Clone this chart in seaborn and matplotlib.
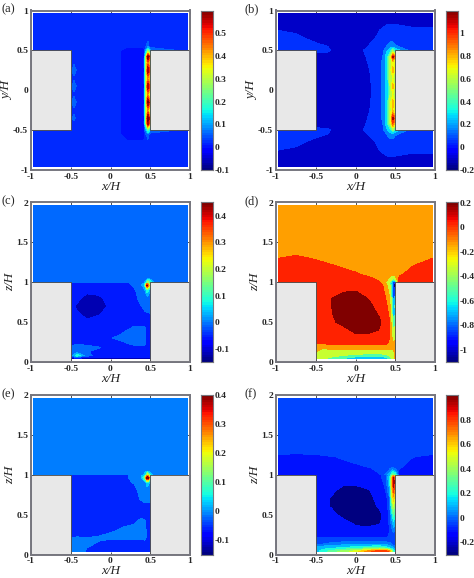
import numpy as np
import matplotlib
matplotlib.use('Agg')
import matplotlib.pyplot as plt
import seaborn as sns

# grids the contour values below were read on
plan_y = [-.96, -.75, -.65, -.55, -.5, -.42, -.35, -.25, -.15, -.05, .05, .15, .25, .35, .42, .5, .55, .65, .75, .96]
a_x = [-.97, -.5, -.46, -.42, .1, .2, .42, .44, .47, .49, .5, .97]
b_x = [-.97, -.75, -.5, -.35, -.25, .1, .2, .3, .35, .4, .44, .47, .5, .7, .97]
cav_x = [-.5, -.42, -.3, -.15, 0, .15, .3, .38, .43, .46, .48, .5]
cav_z = [.04, .08, .13, .18, .23, .3, .4, .5, .6, .7, .8, .9, .96, 1.0]
top_x = [-.97, -.75, -.5, -.25, 0, .2, .3, .4, .44, .47, .5, .55, .75, .97]
top_z = [1.0, 1.05, 1.1, 1.2, 1.3, 1.4, 1.96]

# (a) rows go bottom to top
a_vals = [
    [.01, .01, .01, .01, .01, .01, .01, .01, .01, .01, .01, .01],
    [.01, .01, .01, .01, .01, .01, .01, .01, .01, .01, .01, .01],
    [.01, .01, .01, .01, .01, .01, .01, .01, .01, .01, .01, .01],
    [.01, .01, .01, .01, .01, -.01, -.01, .02, .07, .02, .01, .01],
    [.01, .01, .01, .01, .01, -.01, -.01, .08, .2, .15, .08, .01],
    [.01, .01, .01, .01, .01, -.01, -.01, .22, .58, .45, .3, .01],
    [.01, .01, .05, .01, .01, -.01, -.01, .2, .65, .5, .3, .01],
    [.01, .01, .01, .01, .01, -.01, -.01, .25, .42, .3, .2, .01],
    [.01, .01, .08, .01, .01, -.01, -.01, .2, .62, .5, .3, .01],
    [.01, .01, .01, .01, .01, -.01, -.01, .25, .42, .3, .2, .01],
    [.01, .01, .08, .01, .01, -.01, -.01, .2, .6, .5, .3, .01],
    [.01, .01, .01, .01, .01, -.01, -.01, .25, .42, .35, .2, .01],
    [.01, .01, .08, .01, .01, -.01, -.01, .2, .6, .5, .3, .01],
    [.01, .01, .01, .01, .01, -.01, -.01, .25, .45, .35, .2, .01],
    [.01, .01, .01, .01, .01, -.01, -.01, .2, .65, .5, .3, .01],
    [.01, .01, .01, .01, .01, -.01, -.01, .08, .2, .15, .08, .01],
    [.01, .01, .01, .01, .01, .01, .01, .02, .07, .02, .01, .01],
    [.01, .01, .01, .01, .01, .01, .01, .01, .01, .01, .01, .01],
    [.01, .01, .01, .01, .01, .01, .01, .01, .01, .01, .01, .01],
    [.01, .01, .01, .01, .01, .01, .01, .01, .01, .01, .01, .01],
]

# (b)
b_vals = [
    [-.08, -.08, -.08, -.08, -.08, -.08, -.08, -.08, -.08, -.08, -.08, -.08, -.08, -.08, -.08],
    [.0, -.03, -.08, -.08, -.08, -.08, -.08, -.0, .02, .045, .045, .045, .045, .02, .02],
    [.045, .045, -.05, -.08, -.08, -.08, -.04, .045, .045, .045, .045, .045, .045, .045, .045],
    [.045, .045, .045, .0, -.04, -.06, .045, .045, .045, .1, .15, .15, .1, .045, .045],
    [.045, .045, .045, .03, -.06, .0, .045, .045, .07, .2, .3, .5, .3, .045, .045],
    [.045, .045, -.08, -.08, -.08, -.02, .045, .045, .1, .33, .6, .95, .7, .045, .045],
    [.045, .045, -.08, -.08, -.08, -.05, .045, .045, .12, .33, .6, 1.1, .8, .045, .045],
    [.045, .045, -.08, -.08, -.08, -.08, .02, .045, .12, .3, .62, .75, .6, .045, .045],
    [.045, .045, -.08, -.08, -.08, -.08, .01, .045, .12, .28, .62, .8, .6, .045, .045],
    [.045, .045, -.08, -.08, -.08, -.08, .0, .045, .12, .26, .6, .65, .55, .045, .045],
    [.045, .045, -.08, -.08, -.08, -.08, .0, .045, .12, .26, .6, .8, .6, .045, .045],
    [.045, .045, -.08, -.08, -.08, -.08, .01, .045, .12, .28, .62, .65, .55, .045, .045],
    [.045, .045, -.08, -.08, -.08, -.08, .02, .045, .12, .3, .62, .8, .6, .045, .045],
    [.045, .045, -.08, -.08, -.08, -.05, .045, .045, .12, .33, .6, .7, .6, .045, .045],
    [.045, .045, -.08, -.08, -.08, -.02, .045, .045, .1, .33, .6, 1.1, .8, .045, .045],
    [.045, .045, .045, .03, -.06, .0, .045, .045, .07, .2, .3, .5, .3, .045, .045],
    [.045, .045, .045, .0, -.04, -.06, .045, .045, .045, .1, .15, .15, .1, .045, .045],
    [.045, .045, -.05, -.08, -.08, -.08, -.04, .045, .045, .045, .045, .045, .045, .045, .045],
    [.0, -.03, -.08, -.08, -.08, -.08, -.08, -.0, .02, .045, .045, .045, .045, .02, .02],
    [-.08, -.08, -.08, -.08, -.08, -.08, -.08, -.08, -.08, -.08, -.08, -.08, -.08, -.08, -.08],
]

# (c) cavity then the flow above it
c_cav = [
    [-.12, -.12, -.12, -.12, -.12, -.12, -.12, -.12, -.12, -.12, -.12, -.12],
    [-.0125, .08, -.0125, -.0575, -.0575, -.0575, -.0575, -.0575, -.0575, -.0575, -.0575, -.0575],
    [-.0125, -.0125, -.03, -.0575, -.0575, -.0575, -.0575, -.0575, -.0575, -.0575, -.0575, -.0575],
    [-.0125, -.0125, -.0125, -.03, -.0575, -.0575, -.0575, -.0575, -.0575, -.0575, -.0575, -.0575],
    [-.0575, -.04, -.05, -.0575, -.05, -.05, -.02, -.0125, -.02, -.0575, -.0575, -.0575],
    [-.0575, -.0575, -.0575, -.0575, -.04, -.0125, -.0125, -.0125, -.0125, -.0575, -.0575, -.0575],
    [-.0575, -.0575, -.0575, -.0575, -.0575, -.05, -.0125, -.0125, -.0125, -.0575, -.0575, -.0575],
    [-.0575, -.0575, -.07, -.0575, -.0575, -.0575, -.0575, -.0575, -.0575, -.0575, -.0575, -.0575],
    [-.0575, -.07, -.11, -.09, -.0575, -.0575, -.0575, -.0575, -.05, -.04, -.04, -.035],
    [-.0575, -.1, -.12, -.12, -.07, -.0575, -.0575, -.04, -.0125, -.0125, -.0125, -.0125],
    [-.0575, -.0575, -.12, -.1, -.0575, -.0575, -.0575, -.0125, -.0125, -.0125, -.0125, -.0125],
    [-.0575, -.0575, -.0575, -.0575, -.0575, -.0575, -.04, -.0125, .0, .08, .06, -.0125],
    [-.0575, -.0575, -.0575, -.0575, -.0575, -.0575, -.03, -.0125, .06, .42, .3, .1],
    [-.0575, -.0575, -.0575, -.0575, -.0575, -.0575, -.0125, -.0125, .05, .2, .18, .1],
]
c_top = [
    [-.0125, -.0125, -.0125, -.0125, -.0125, -.0125, -.0125, -.0125, .03, .2, .1, -.0125, -.0125, -.0125],
    [-.0125, -.0125, -.0125, -.0125, -.0125, -.0125, -.0125, -.0125, -.0125, .0, -.0125, -.0125, -.0125, -.0125],
    [-.0125, -.0125, -.0125, -.0125, -.0125, -.0125, -.0125, -.0125, -.0125, -.0125, -.0125, -.0125, -.0125, -.0125],
    [-.0125, -.0125, -.0125, -.0125, -.0125, -.0125, -.0125, -.0125, -.0125, -.0125, -.0125, -.0125, -.0125, -.0125],
    [-.0125, -.0125, -.0125, -.0125, -.0125, -.0125, -.0125, -.0125, -.0125, -.0125, -.0125, -.0125, -.0125, -.0125],
    [-.0125, -.0125, -.0125, -.0125, -.0125, -.0125, -.0125, -.0125, -.0125, -.0125, -.0125, -.0125, -.0125, -.0125],
    [-.0125, -.0125, -.0125, -.0125, -.0125, -.0125, -.0125, -.0125, -.0125, -.0125, -.0125, -.0125, -.0125, -.0125],
]

# (d)
d_cav = [
    [-.3, -.42, -.5, -.62, -.75, -.75, -.75, -.7, -.6, -.4, -.3, -.2],
    [-.3, -.36, -.4, -.45, -.5, -.55, -.55, -.5, -.42, -.35, -.3, -.2],
    [-.2, -.3, -.28, -.3, -.3, -.32, -.32, -.3, -.28, -.28, -.25, -.15],
    [-.165, -.2, -.165, -.165, -.165, -.165, -.165, -.165, -.165, -.165, -.165, -.1],
    [-.06, -.06, -.03, -.02, -.02, -.02, -.02, -.02, -.1, -.14, -.2, -.1],
    [.03, .03, .03, .03, .03, .03, .03, .03, -.06, -.22, -.35, -.3],
    [.03, .03, .03, .05, .2, .22, .12, .03, -.06, -.28, -.5, -.4],
    [.03, .03, .08, .22, .22, .22, .16, .03, -.06, -.35, -.6, -.45],
    [.03, .03, .12, .22, .22, .22, .11, .03, -.1, -.45, -.8, -.6],
    [.03, .03, .13, .22, .22, .22, .03, .0, -.165, -.5, -.8, -.55],
    [.03, .03, .13, .22, .22, .13, .03, -.06, -.2, -.6, -.9, -.7],
    [.03, .03, .03, .1, .12, .03, .03, -.1, -.3, -.7, -1.0, -.85],
    [.03, .03, .03, .03, .03, .03, .03, -.14, -.38, -.75, -1.05, -.95],
    [.03, .03, .03, .03, .03, .03, -.03, -.2, -.45, -.75, -.95, -.9],
]
d_top = [
    [.03, .03, .03, .03, .03, .03, -.03, -.3, -.5, -.9, -.8, .03, .03, .03],
    [.03, .03, .03, .03, .03, -.03, -.165, -.165, -.3, -.4, -.3, -.03, .03, .03],
    [.03, .03, .03, .03, -.02, -.165, -.165, -.165, -.165, -.165, -.165, -.09, .03, .03],
    [.03, .03, .03, -.05, -.165, -.165, -.165, -.165, -.165, -.165, -.165, -.165, -.04, .03],
    [-.06, .0, -.08, -.165, -.165, -.165, -.165, -.165, -.165, -.165, -.165, -.165, -.165, -.06],
    [-.165, -.165, -.165, -.165, -.165, -.165, -.165, -.165, -.165, -.165, -.165, -.165, -.165, -.165],
    [-.165, -.165, -.165, -.165, -.165, -.165, -.165, -.165, -.165, -.165, -.165, -.165, -.165, -.165],
]

# (e)
e_cav = [
    [-.0125, -.0125, -.04, -.0575, -.0575, -.0575, -.0575, -.0575, -.0575, -.0575, -.0575, -.0575],
    [-.0125, -.0125, -.035, -.0575, -.0575, -.0575, -.0575, -.0575, -.0575, -.0575, -.0575, -.0575],
    [-.0125, -.0125, -.0125, -.05, -.0575, -.0575, -.0575, -.0575, -.0575, -.0575, -.0575, -.0575],
    [-.0125, -.0125, -.0125, -.03, -.04, -.04, -.04, -.04, -.035, -.0575, -.0575, -.0575],
    [-.05, -.04, -.05, -.035, -.0125, -.0125, -.0125, -.0125, -.0125, -.04, -.0575, -.0575],
    [-.0575, -.0575, -.0575, -.0575, -.05, -.02, -.0125, -.0125, -.0125, -.05, -.0575, -.0575],
    [-.0575, -.0575, -.0575, -.0575, -.0575, -.0575, -.04, -.0125, -.02, -.0575, -.0575, -.0575],
    [-.0575, -.0575, -.0575, -.0575, -.0575, -.0575, -.0575, -.0575, -.0575, -.0575, -.0575, -.0575],
    [-.0575, -.0575, -.0575, -.0575, -.0575, -.0575, -.0575, -.0575, -.0575, -.0575, -.0575, -.0575],
    [-.0575, -.0575, -.0575, -.0575, -.0575, -.0575, -.0575, -.03, -.0125, -.0125, -.0125, -.0125],
    [-.0575, -.0575, -.0575, -.0575, -.0575, -.0575, -.0575, -.0125, -.0125, -.0125, -.0125, -.0125],
    [-.0575, -.0575, -.0575, -.0575, -.0575, -.0575, -.03, -.0125, -.0125, .03, .02, -.0125],
    [-.0575, -.0575, -.0575, -.0575, -.0575, -.0575, -.0125, -.0125, .1, .42, .38, .05],
    [-.0575, -.0575, -.0575, -.0575, -.0575, -.0575, -.0125, -.0125, .05, .2, .2, .05],
]
e_top = [
    [-.0125, -.0125, -.0125, -.0125, -.0125, -.0125, -.0125, -.0125, .05, .2, .05, -.0125, -.0125, -.0125],
    [-.0125, -.0125, -.0125, -.0125, -.0125, -.0125, -.0125, -.0125, -.0125, .0, -.0125, -.0125, -.0125, -.0125],
    [-.0125, -.0125, -.0125, -.0125, -.0125, -.0125, -.0125, -.0125, -.0125, -.0125, -.0125, -.0125, -.0125, -.0125],
    [-.0125, -.0125, -.0125, -.0125, -.0125, -.0125, -.0125, -.0125, -.0125, -.0125, -.0125, -.0125, -.0125, -.0125],
    [-.0125, -.0125, -.0125, -.0125, -.0125, -.0125, -.0125, -.0125, -.0125, -.0125, -.0125, -.0125, -.0125, -.0125],
    [-.0125, -.0125, -.0125, -.0125, -.0125, -.0125, -.0125, -.0125, -.0125, -.0125, -.0125, -.0125, -.0125, -.0125],
    [-.0125, -.0125, -.0125, -.0125, -.0125, -.0125, -.0125, -.0125, -.0125, -.0125, -.0125, -.0125, -.0125, -.0125],
]

# (f)
f_cav = [
    [.1, .2, .3, .4, .5, .7, .85, .85, .7, .4, .2, .1],
    [.08, .12, .14, .18, .22, .28, .3, .25, .15, .1, .05, .0],
    [-.03, -.02, .0, .02, .03, .03, .03, .02, .0, -.03, -.05, -.05],
    [-.05, -.05, -.05, -.05, -.05, -.05, -.05, -.05, -.05, -.05, -.05, -.05],
    [-.1, -.1, -.1, -.1, -.1, -.1, -.1, -.1, -.07, -.05, -.05, -.05],
    [-.115, -.115, -.115, -.115, -.115, -.115, -.115, -.115, -.08, -.03, .0, -.03],
    [-.115, -.115, -.115, -.115, -.17, -.19, -.16, -.115, -.07, .03, .12, .05],
    [-.115, -.115, -.115, -.19, -.19, -.19, -.17, -.115, -.06, .15, .3, .1],
    [-.115, -.115, -.16, -.19, -.19, -.19, -.14, -.115, -.05, .3, .45, .2],
    [-.115, -.115, -.16, -.19, -.19, -.19, -.115, -.11, -.03, .45, .6, .35],
    [-.115, -.115, -.13, -.19, -.19, -.16, -.115, -.08, .05, .55, .8, .45],
    [-.115, -.115, -.115, -.13, -.13, -.115, -.115, -.06, .1, .65, .95, .6],
    [-.115, -.115, -.115, -.115, -.115, -.115, -.1, -.05, .15, .6, .9, .6],
    [-.115, -.115, -.115, -.115, -.115, -.115, -.09, -.05, .1, .35, .6, .4],
]
f_top = [
    [-.115, -.115, -.115, -.115, -.115, -.115, -.09, .03, .15, .35, .25, -.115, -.115, -.115],
    [-.115, -.115, -.115, -.115, -.115, -.1, -.06, -.05, .03, .08, .03, -.09, -.115, -.115],
    [-.115, -.115, -.115, -.115, -.1, -.07, -.05, -.05, -.05, -.05, -.05, -.07, -.115, -.115],
    [-.115, -.115, -.115, -.09, -.05, -.05, -.05, -.05, -.05, -.05, -.05, -.05, -.09, -.115],
    [-.05, -.06, -.05, -.05, -.05, -.05, -.05, -.05, -.05, -.05, -.05, -.05, -.05, -.05],
    [-.05, -.05, -.05, -.05, -.05, -.05, -.05, -.05, -.05, -.05, -.05, -.05, -.05, -.05],
    [-.05, -.05, -.05, -.05, -.05, -.05, -.05, -.05, -.05, -.05, -.05, -.05, -.05, -.05],
]

# contour levels and colorbar range for each panel
a_levels = [-.012, .005, .03, .08, .13, .18, .23, .28, .33, .38, .43, .48, .53, .6, .7]
b_levels = [-.22, 0, .09, .21, .35, .45, .55, .65, .75, .85, .95, 1.05, 1.25]
c_levels = [-.16, -.085, -.035, .01, .05, .1, .15, .2, .25, .3, .35, .4, .5]
d_levels = [-1.3, -.93, -.77, -.6, -.44, -.22, -.06, .13, .35]
e_levels = [-.16, -.085, -.035, .01, .05, .1, .15, .2, .25, .3, .35, .45]
f_levels = [-.5, -.15, -.08, -.02, .05, .15, .25, .35, .45, .55, .65, .75, .85, 1.05]

a_ticks = [-.1, 0, .1, .2, .3, .4, .5]
b_ticks = [-.2, 0, .2, .4, .6, .8, 1]
c_ticks = [-.1, 0, .1, .2, .3, .4]
d_ticks = [-1, -.8, -.6, -.4, -.2, 0, .2]
e_ticks = [-.1, 0, .1, .2, .3, .4]
f_ticks = [-.2, 0, .2, .4, .6, .8]

sns.set_theme(style='ticks')
plt.rcParams['font.family'] = ['Liberation Serif', 'DejaVu Serif']
FW, FH = 474, 578
frame = '#77777f'
jet = plt.get_cmap('jet')


def box(x0, y0, x1, y1):
    # pixel box to figure fractions
    return [x0 / FW, 1 - y1 / FH, (x1 - x0) / FW, (y1 - y0) / FH]


def band_colors(levels, vmin, vmax):
    mids = (np.array(levels[:-1]) + np.array(levels[1:])) / 2
    return [jet(np.clip((m - vmin) / (vmax - vmin), 0, 1)) for m in mids]


def style_axes(ax, ylabel, yticks, ylabels):
    ax.set_xlim(-1, 1)
    ax.set_xticks([-1, -.5, 0, .5, 1])
    ax.set_xticklabels(['-1', '-0.5', '0', '0.5', '1'], fontsize=6.8, fontweight='bold')
    ax.set_yticks(yticks)
    ax.set_yticklabels(ylabels, fontsize=6.8, fontweight='bold')
    ax.tick_params(direction='in', length=2, width=.6, pad=2, top=True, right=True, color='#333333')
    ax.set_xlabel('x/H', fontsize=9.5, style='italic', labelpad=0)
    ax.set_ylabel(ylabel, fontsize=9.5, style='italic', labelpad=0)
    for s in ax.spines.values():
        s.set_color(frame)
        s.set_linewidth(1.4)
        s.set_zorder(6)


def draw_block(ax, x0, x1, y0, y1):
    ax.fill_between([x0, x1], y0, y1, facecolor='#e8e8e8', edgecolor='#444444', linewidth=.6, zorder=4)


def colorbar(pos, vmin, vmax, ticks):
    cax = fig.add_axes(box(*pos))
    strip = np.linspace(vmin, vmax, 64)[:, None]
    sns.heatmap(strip, ax=cax, cmap='jet', vmin=vmin, vmax=vmax, cbar=False, xticklabels=False)
    cax.set_ylim(0, 64)
    cax.yaxis.tick_right()
    cax.set_yticks([(t - vmin) / (vmax - vmin) * 64 for t in ticks])
    cax.set_yticklabels([f'{t:g}' for t in ticks], rotation=0, fontsize=6.8, fontweight='bold')
    cax.tick_params(axis='y', direction='in', length=1.5, width=.6, pad=1, color='#222222')
    for s in cax.spines.values():
        s.set_visible(True)
        s.set_color(frame)
        s.set_linewidth(.8)


fig = plt.figure(figsize=(FW / 100, FH / 100), dpi=100)

# plan views
for x, vals, levels, vmax, vmin, ticks, px, label, lx in [
    (a_x, a_vals, a_levels, .6, -.1, a_ticks, 31, '(a)', 1),
    (b_x, b_vals, b_levels, 1.2, -.2, b_ticks, 276, '(b)', 244),
]:
    ax = fig.add_axes(box(px, 10.5, px + 159, 170))
    ax.contourf(x, plan_y, np.array(vals), levels=levels, colors=band_colors(levels, vmin, vmax))
    draw_block(ax, -1, -.5, -.5, .5)
    draw_block(ax, .5, 1, -.5, .5)
    ax.set_ylim(-1, 1)
    style_axes(ax, 'y/H', [-1, -.5, 0, .5, 1], ['-1', '-0.5', '0', '0.5', '1'])
    colorbar((px + 170, 10.5, px + 182, 170), vmin, vmax, ticks)
    fig.text(lx / FW, 1 - 9 / FH, label, fontsize=9, va='center')

# sections
for cav, top, levels, vmin, vmax, ticks, px, py0, py1, label, lx in [
    (c_cav, c_top, c_levels, -.15, .45, c_ticks, 31, 202.5, 362, '(c)', 1),
    (d_cav, d_top, d_levels, -1.1, .2, d_ticks, 276, 202.5, 362, '(d)', 244),
    (e_cav, e_top, e_levels, -.15, .4, e_ticks, 31, 395, 554.5, '(e)', 1),
    (f_cav, f_top, f_levels, -.3, 1, f_ticks, 276, 395, 554.5, '(f)', 244),
]:
    ax = fig.add_axes(box(px, py0, px + 159, py1))
    cols = band_colors(levels, vmin, vmax)
    ax.contourf(cav_x, cav_z, np.array(cav), levels=levels, colors=cols)
    ax.contourf(top_x, top_z, np.array(top), levels=levels, colors=cols)
    draw_block(ax, -1, -.5, 0, 1)
    draw_block(ax, .5, 1, 0, 1)
    ax.set_ylim(0, 2)
    style_axes(ax, 'z/H', [0, .5, 1, 1.5, 2], ['0', '0.5', '1', '1.5', '2'])
    colorbar((px + 170, py0, px + 182, py1), vmin, vmax, ticks)
    fig.text(lx / FW, 1 - (py0 - 1) / FH, label, fontsize=9, va='center')

fig.savefig('out.png', dpi=100)
